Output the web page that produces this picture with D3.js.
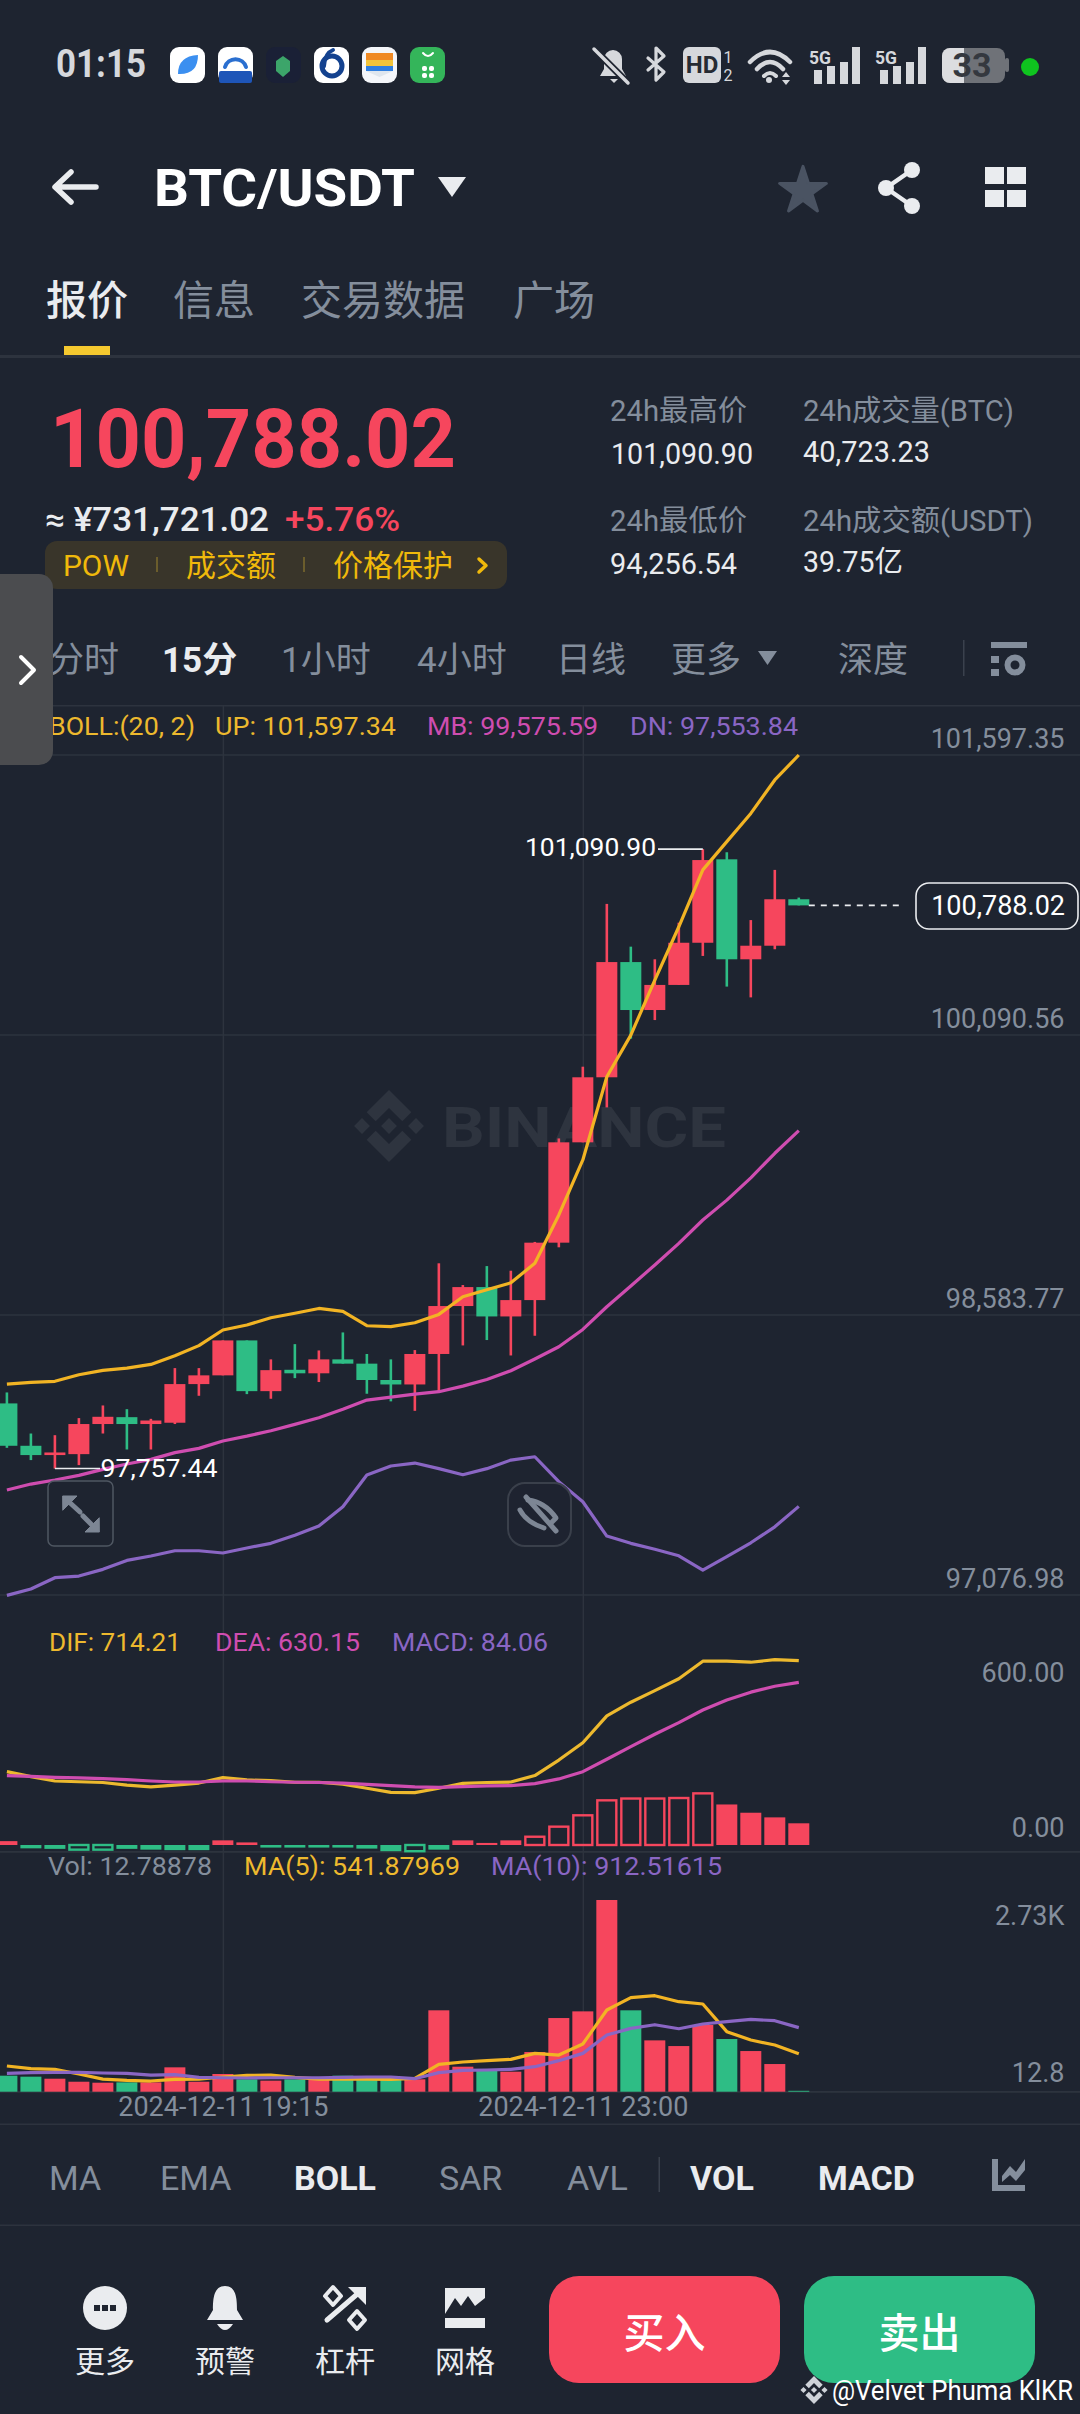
<!DOCTYPE html>
<html><head><meta charset="utf-8">
<script src="https://cdn.jsdelivr.net/npm/d3@7/dist/d3.min.js"></script>
<style>html,body{margin:0;padding:0;background:#1e2430}svg{display:block}text{font-family:Roboto,"Noto Sans CJK SC",sans-serif}</style>
</head><body><div id="chart"></div>
<script>
// ---------- data ----------
const opens  = [98108,97880,97830,97835,97997,98034,97997,98004,98212,98259,98447,98174,98289,98270,98345,98322,98234,98210,98374,98632,98734,98576,98664,98973,99513,99863,100483,100225,100360,100587,101036,100498,100571,100821];
const closes = [97880,97830,97844,97997,98036,97997,98016,98212,98259,98447,98174,98287,98270,98345,98322,98234,98210,98374,98632,98734,98576,98664,98973,99513,99863,100483,100225,100360,100587,101032,100498,100571,100821,100788.02];
const highs  = [98167,97946,97937,98029,98097,98077,98025,98298,98298,98447,98447,98345,98427,98393,98490,98374,98345,98395,98862,98745,98847,98822,98977,99534,99920,100796,100566,100498,100695,101090.90,101074,100709,100979,100830];
const lows   = [97869,97803,97757.44,97776,97946,97860,97860,97997,98149,98259,98158,98133,98244,98223,98322,98160,98119,98068,98171,98420,98449,98366,98472,98948,99513,99701,100071,100171,100360,100516,100351,100293,100552,100788.02];
const bollUp = [98212,98221,98227,98262,98286,98298,98318,98365,98419,98503,98530,98569,98593,98619,98603,98526,98521,98542,98587,98682,98720,98757,98862,99122,99418,99866,100090,100386,100673,100979,101131,101283,101463,101597.34];
const bollMb = [97642,97674,97696,97721,97753,97782,97807,97843,97866,97906,97932,97961,97995,98031,98076,98126,98142,98158,98171,98201,98237,98284,98347,98413,98506,98628,98740,98853,98969,99095,99202,99322,99454,99575.59];
const bollDn = [97075,97109,97170,97179,97215,97263,97287,97315,97315,97303,97330,97355,97398,97448,97552,97723,97771,97787,97757,97724,97757,97803,97821,97687,97579,97394,97355,97323,97288,97211,97283,97358,97444,97553.84];
const macdDif = [284,265,248,245,242,232,225,232,240,261,252,249,243,243,236,220,204,203,220,239,242,244,269,329,396,500,553,598,644,712,712,708,718,714.21];
const macdDea = [269,266,262,260,257,253,248,244,244,248,248,245,243,242,240,235,230,225,223,226,229,230,238,256,284,332,381,429,474,523,562,592,615,630.15];
const macdHist = [15,-13,-15,-18,-18,-15,-18,-20,-20,18,10,-10,-10,-10,-10,-14,-24,-24,-18,18,8,18,32,71,115,173,180,180,182,200,157,125,107,84.06];
const macdHollow = [3,4,17,22,23,24,25,26,27,28,29];
const volumes = [228,214,185,142,128,133,133,347,142,252,176,157,176,176,228,166,166,176,1159,356,309,285,565,1049,1144,2730,1159,731,650,950,750,579,394,12.79];
const volMa5  = [366,328,318,252,180,161,152,176,180,209,233,237,204,180,180,180,176,190,389,423,442,461,546,522,679,1163,1339,1367,1282,1249,855,736,665,541.88];
const volMa10 = [261,271,275,275,266,261,237,242,204,199,195,199,199,199,204,209,209,185,271,304,309,318,356,442,546,807,902,954,897,964,997,1030,1011,912.52];
const priceTicks = [101597.35,100090.56,98583.77,97076.98];
const macdTicks = [600,0];
const volTicks = [2730,12.8];
const volTickLabels = ["2.73K","12.8"];
const dateTickIndex = [9,24];
const dateTickLabels = ["2024-12-11 19:15","2024-12-11 23:00"];
const headTabs = ["报价","信息","交易数据","广场"];
const periods = ["分时","15分","1小时","4小时","日线","更多","深度"];
const indicators = ["MA","EMA","BOLL","SAR","AVL","VOL","MACD"];
const actions = ["更多","预警","杠杆","网格"];
// ---------- style ----------
const BG="#1e2430",RED="#f6465d",GREEN="#2ebd85",YEL="#edb92e",PINK="#cf4db0",PUR="#8a66c4",GRID="#2d333e",GREY="#848e9c",WHITE="#eaecef";
const W=1080,H=2414;
const svg=d3.select("#chart").append("svg").attr("width",W).attr("height",H).attr("viewBox",[0,0,W,H]);
svg.append("rect").attr("width",W).attr("height",H).attr("fill",BG);
function T(x,y,s,size,color,o={}){const t=svg.append("text").attr("x",x).attr("y",y).text(s).attr("font-size",size).attr("fill",color).attr("text-anchor",o.a||"start").attr("font-weight",o.w||400);if(o.tl)t.attr("textLength",o.tl).attr("lengthAdjust","spacingAndGlyphs");return t;}
function R(x,y,w,h,f,r=0){return svg.append("rect").attr("x",x).attr("y",y).attr("width",w).attr("height",h).attr("fill",f).attr("rx",r);}
function P(d,f,s,sw){return svg.append("path").attr("d",d).attr("fill",f||"none").attr("stroke",s||"none").attr("stroke-width",sw||0).attr("stroke-linecap","round").attr("stroke-linejoin","round");}
function C(x,y,r,f,s,sw){return svg.append("circle").attr("cx",x).attr("cy",y).attr("r",r).attr("fill",f||"none").attr("stroke",s||"none").attr("stroke-width",sw||0);}
function logo(cx,cy,s,fill){const pts=[[[0,-.22],[.22,0],[0,.22],[-.22,0]],[[-.75,-.22],[-.53,0],[-.75,.22],[-.97,0]],[[.75,-.22],[.97,0],[.75,.22],[.53,0]],[[0,-1],[.62,-.38],[.37,-.13],[0,-.5],[-.37,-.13],[-.62,-.38]],[[0,1],[.62,.38],[.37,.13],[0,.5],[-.37,.13],[-.62,.38]]];
 pts.forEach(p=>svg.append("polygon").attr("points",p.map(q=>[cx+q[0]*s,cy+q[1]*s].join(",")).join(" ")).attr("fill",fill));}

// ---------- status bar ----------
T(56,77,"01:15",38,"#d6d8dc",{w:700,tl:90});
[["#ffffff","#3b8ff0"],["#ffffff","#2a6fd0"],["#1a2036","#3ca56a"],["#ffffff","#14428f"],["#f4f6fa","#f08a24"],["#34b55a","#ffffff"]].forEach((c,i)=>{
 const x=170+i*48;R(x,47,35,36,c[0],9);
 if(i==0)P(`M${x+8} ${y2(27)}Q${x+8} ${y2(9)} ${x+28} ${y2(8)}Q${x+28} ${y2(28)} ${x+8} ${y2(27)}Z`,c[1]);
 if(i==1){P(`M${x+7} 67A11 11 0 0 1 ${x+28} 67`,"none",c[1],4);R(x+1,71,33,12,"#1e55b8",2);}
 if(i==2)P(`M${x+17} 56l7 5v10l-7 6l-7-6v-10z`,c[1]);
 if(i==3){C(x+18,66,10,"none",c[1],5);P(`M${x+10} 66Q${x+11} 53 ${x+19} 50`,"none",c[1],4);}
 if(i==4){R(x+4,53,27,7,"#f08a24");R(x+4,60,27,6,"#f2c43a");R(x+4,66,27,5,"#2f7fe0");P(`M${x+4} 71h27l-13.5 6z`,"#dfe6ee");}
 if(i==5){P(`M${x+13} 53q5 6 10 0`,"none","#fff",2);[[12,66],[19,66],[12,73],[19,73]].forEach(q=>R(x+q[0],q[1],5,5,"#fff",2));}
});
function y2(v){return 47+v;}
P("M600 76h26l-4-7v-10a9 9 0 0 0-18 0v10zM610 79h8l-4 4z","#d6d8dc");P("M594 49L628 83","none",BG,7);P("M594 49L628 83","none","#d6d8dc",3.5);
P("M648 58L664 72L656 80V48L664 56L648 70","none","#d6d8dc",3.2);
R(683,47,38,36,"#d6d8dc",6);T(702,73,"HD",24,"#262b33",{a:"middle",w:700});T(728,63,"1",16,"#d6d8dc",{a:"middle"});T(728,81,"2",16,"#d6d8dc",{a:"middle"});
P("M750 62Q770 42 790 62","none","#d6d8dc",4.5);P("M757 69Q770 55 783 69","none","#d6d8dc",4.5);P("M764 76Q770 70 776 76","none","#d6d8dc",4);C(769,80,3,"#d6d8dc");P("M782 77l4-5l4 5zM782 80l4 5l4-5z","#d6d8dc");
[809,875].forEach(x=>{T(x,64,"5G",19,"#d6d8dc",{w:700,tl:22});[[0,70],[13,66],[26,62],[38,47]].forEach(b=>R(x+5+b[0],b[1],8,84-b[1],"#d6d8dc"));});
R(942,48,63,35,"#6f7278",8);P("M950 48H964V83H950a8 8 0 0 1-8-8V56a8 8 0 0 1 8-8z","#dcdde0");T(972,77,"33",34,"#34383f",{a:"middle",w:700});
R(1005,58,4,14,"#6f7278",2);svg.append("ellipse").attr("cx",1030).attr("cy",67).attr("rx",9).attr("ry",9).attr("fill","#0fc41f");

// ---------- header ----------
P("M96 187H56M71 172L55 187L71 202","none",WHITE,5.5);
T(154,206,"BTC/USDT",52,"#ffffff",{w:700,tl:261});
P("M438 177H466L452 197Z",WHITE);
svg.append("path").attr("transform","translate(803,191)").attr("d",d3.symbol(d3.symbolStar,680)()).attr("fill","#4a5362").attr("stroke","#4a5362").attr("stroke-width",3).attr("stroke-linejoin","round");
C(912,170,8,WHITE);C(886,188,8,WHITE);C(912,206,8,WHITE);P("M912 170L886 188L912 206","none",WHITE,4.5);
[[985,167],[1007,167],[985,190],[1007,190]].forEach(q=>R(q[0],q[1],19,17,WHITE));
// tabs
[[46,0],[173,1],[301,2],[513,3]].forEach(q=>T(q[0],315,headTabs[q[1]],41,q[1]==0?WHITE:GREY,{w:q[1]==0?500:400}));
R(64,346,46,9,"#f5c92f");R(0,355,W,3,"#2d333e");

// ---------- quote ----------
T(50,467,"100,788.02",82,RED,{w:700,tl:406});
T(45,531,"≈ ¥731,721.02",33,WHITE,{w:500,tl:224});T(285,531,"+5.76%",33,RED,{w:500,tl:115});
R(45,541,462,48,"#39352a",12);
T(63,576,"POW",29,"#f0b90b",{tl:66});R(156,557,2,15,"#6b5d2c");T(186,576,"成交额",30,"#f0b90b");R(303,557,2,15,"#6b5d2c");T(333,576,"价格保护",30,"#f0b90b");
P("M479 559L486 565.5L479 572","none","#f0b90b",3.5);
T(610,421,"24h最高价",29,GREY,{tl:137});T(803,421,"24h成交量(BTC)",29,GREY,{tl:211});
T(611,464,"101,090.90",29,WHITE,{tl:142});T(803,462,"40,723.23",29,WHITE,{tl:127});
T(610,531,"24h最低价",29,GREY,{tl:137});T(803,531,"24h成交额(USDT)",29,GREY,{tl:230});
T(610,574,"94,256.54",29,WHITE,{tl:127});T(803,572,"39.75亿",29,WHITE,{tl:100});

// ---------- period tabs ----------
[[49,0],[162,1],[281,2],[417,3],[556,4],[671,5],[838,6]].forEach(q=>T(q[0],672,periods[q[1]],35,q[1]==1?WHITE:GREY,{w:q[1]==1?700:400}));
P("M758 651H777L767.5 665Z",GREY);R(963,640,1.5,36,"#3a414d");
R(991,642,36,6,GREY);R(991,656,8,7,GREY);R(991,669,8,7,GREY);C(1015,665,7.5,"none",GREY,6);

// ---------- scales ----------
const idx=d3.range(opens.length);
const x=d3.scaleLinear().domain([0,33]).range([6.9,798.8]);
const yP=d3.scaleLinear().domain([97076.98,101597.35]).range([1595,755]);
const yM=d3.scaleLinear().domain([0,600]).range([1845,1690.1]);
const yV=d3.scaleLinear().domain([0,2730]).range([2091.7,1900]);
const BW=21;

// ---------- grid & axes ----------
R(0,705,W,1.5,GRID);
svg.append("g").selectAll("line").data(priceTicks).join("line").attr("x1",0).attr("x2",W).attr("y1",yP).attr("y2",yP).attr("stroke",GRID).attr("stroke-width",1.5);
const sty=g=>{g.select(".domain").remove();g.selectAll("line").remove();g.selectAll("text").attr("fill",GREY).attr("font-size",27).attr("font-family",'Roboto,sans-serif').attr("text-anchor","end").attr("x",1064.5).attr("dy",null);};
svg.append("g").call(d3.axisRight(yP).tickValues(priceTicks).tickSize(0).tickFormat(d3.format(",.2f"))).call(sty).selectAll("text").attr("y",-8);
svg.append("g").attr("transform","translate(0,705)").call(d3.axisBottom(x).tickValues(dateTickIndex).tickSize(1387).tickFormat((d,i)=>dateTickLabels[i])).call(g=>{g.select(".domain").remove();g.selectAll("line").attr("stroke",GRID).attr("stroke-width",1.5);g.selectAll("text").attr("fill",GREY).attr("font-size",27).attr("font-family",'Roboto,sans-serif').attr("y",1411).attr("dy",null);});
svg.append("g").call(d3.axisRight(yM).tickValues(macdTicks).tickSize(0).tickFormat(d3.format(".2f"))).call(sty).selectAll("text").attr("y",-9);
svg.append("g").call(d3.axisRight(yV).tickValues(volTicks).tickSize(0).tickFormat((d,i)=>volTickLabels[i])).call(sty).selectAll("text").attr("y",(d,i)=>i==0?24:-9);
R(0,1851,W,1.8,GRID);R(0,2091,W,1.8,GRID);R(0,2123.5,W,1.5,GRID);R(0,2224.5,W,1.5,GRID);

// ---------- watermark ----------
logo(389,1126,36,"#2e343f");
T(442,1147,"BINANCE",56,"#2e343f",{w:700,tl:284});

// ---------- legends ----------
const L=(x0,y0,s,c,tl)=>T(x0,y0,s,26.5,c,{tl});
L(49,735,"BOLL:(20, 2)",YEL,146);L(215,735,"UP: 101,597.34",YEL,181);L(427,735,"MB: 99,575.59",PINK,171);L(630,735,"DN: 97,553.84",PUR,168);
L(49,1651,"DIF: 714.21",YEL,132);L(215,1651,"DEA: 630.15",PINK,145);L(392,1651,"MACD: 84.06",PUR,156);
L(48,1875,"Vol: 12.78878",GREY,164);L(244,1875,"MA(5): 541.87969",YEL,216);L(491,1875,"MA(10): 912.51615",PUR,231);

// ---------- candles ----------
const col=i=>closes[i]>=opens[i]?RED:GREEN;
const cg=svg.append("g");
cg.selectAll("line").data(idx).join("line").attr("x1",x).attr("x2",x).attr("y1",i=>yP(highs[i])).attr("y2",i=>yP(lows[i])).attr("stroke",col).attr("stroke-width",2.6);
cg.selectAll("rect").data(idx).join("rect").attr("x",i=>x(i)-BW/2).attr("width",BW).attr("y",i=>yP(Math.max(opens[i],closes[i]))).attr("height",i=>Math.max(2,Math.abs(yP(opens[i])-yP(closes[i])))).attr("fill",col);
const lineOf=(arr,y)=>d3.line().x((d,i)=>x(i)).y(d=>y(d))(arr);
const drawLine=(arr,y,c,sw=3.2)=>svg.append("path").attr("d",lineOf(arr,y)).attr("fill","none").attr("stroke",c).attr("stroke-width",sw).attr("stroke-linejoin","round");
drawLine(bollUp,yP,"#f2b424");drawLine(bollMb,yP,PINK);drawLine(bollDn,yP,PUR);

// annotations
const hiI=highs.indexOf(d3.max(highs)),loI=lows.indexOf(d3.min(lows));
svg.append("path").attr("d",`M658 ${yP(highs[hiI])}H${x(hiI)}`).attr("stroke",WHITE).attr("stroke-width",1.6).attr("fill","none");
T(525,856,d3.format(",.2f")(highs[hiI]),26.5,"#ffffff",{tl:131});
svg.append("path").attr("d",`M${x(loI)} ${yP(lows[loI])}H100`).attr("stroke",WHITE).attr("stroke-width",1.6).attr("fill","none");
T(100.5,1477,d3.format(",.2f")(lows[loI]),26.5,"#ffffff",{tl:117});
svg.append("line").attr("x1",x(33)+10).attr("x2",900).attr("y1",yP(closes[33])).attr("y2",yP(closes[33])).attr("stroke",WHITE).attr("stroke-width",1.6).attr("stroke-dasharray","6 6");
svg.append("rect").attr("x",916).attr("y",883).attr("width",162).attr("height",46).attr("rx",13).attr("fill",BG).attr("stroke",WHITE).attr("stroke-width",1.6);
T(1065,915,d3.format(",.2f")(closes[33]),27,"#ffffff",{a:"end"});

// chart buttons
svg.append("rect").attr("x",48).attr("y",1481).attr("width",65).attr("height",65).attr("rx",6).attr("fill",BG).attr("fill-opacity",.6).attr("stroke","#4f5762").attr("stroke-width",1.5);
P("M63 1496H77L63 1510Z","#7d8694","#7d8694",1);P("M68 1501L80 1512","none","#7d8694",5);
P("M99 1532H85L99 1518Z","#7d8694","#7d8694",1);P("M94 1527L83 1516","none","#7d8694",5);
svg.append("rect").attr("x",508).attr("y",1483).attr("width",63).attr("height",63).attr("rx",17).attr("fill",BG).attr("fill-opacity",.7).attr("stroke","#3a404b").attr("stroke-width",2);
P("M528 1500Q545 1502 556 1518L552 1522","none","#7d8694",5);P("M520 1510Q526 1522 544 1528","none","#7d8694",5);P("M526 1497L556 1531","none","#7d8694",5);

// ---------- MACD ----------
const mg=svg.append("g");
mg.selectAll("rect").data(idx).join("rect").attr("x",i=>x(i)-BW/2+(macdHollow.includes(i)?1:0)).attr("width",i=>BW-(macdHollow.includes(i)?2:0))
 .attr("y",i=>macdHist[i]>=0?yM(macdHist[i]):yM(0)).attr("height",i=>Math.max(2,Math.abs(yM(macdHist[i])-yM(0))))
 .attr("fill",i=>macdHollow.includes(i)?"none":(macdHist[i]>=0?RED:GREEN)).attr("stroke",i=>macdHollow.includes(i)?(macdHist[i]>=0?RED:GREEN):"none").attr("stroke-width",2.4);
drawLine(macdDif,yM,YEL);drawLine(macdDea,yM,PINK);

// ---------- volume ----------
const vg=svg.append("g");
vg.selectAll("rect").data(idx).join("rect").attr("x",i=>x(i)-BW/2).attr("width",BW).attr("y",i=>yV(volumes[i])).attr("height",i=>yV(0)-yV(volumes[i])).attr("fill",col);
drawLine(volMa5,yV,"#f2b424");drawLine(volMa10,yV,PUR);

// side handle (above the legend text)
P("M0 574H39a14 14 0 0 1 14 14V751a14 14 0 0 1-14 14H0Z","#4b4c4f");
P("M21 657L34 670L21 683","none","#ffffff",4);

// ---------- indicators ----------
[[49,0],[160,1],[294,2],[439,3],[567,4],[690,5],[818,6]].forEach(q=>T(q[0],2190,indicators[q[1]],34,[2,5,6].includes(q[1])?WHITE:GREY,{w:[2,5,6].includes(q[1])?700:400}));
R(658.5,2157,1.5,35,"#3a414d");
P("M992 2159V2191H1025V2185H998V2159ZM1002 2176L1010 2166L1016 2172L1025 2159V2170L1016 2181L1010 2175L1002 2182Z",GREY);

// ---------- actions ----------
C(105,2308,22,WHITE);[94,102,110].forEach(v=>R(v,2305,6,6,BG));
P("M225 2286C214 2286 213 2298 213 2310L207 2320H243L237 2310C237 2298 236 2286 225 2286Z",WHITE);P("M217 2324H233Q225 2336 217 2324Z",WHITE);
P("M327 2320L362 2290","none",WHITE,5);P("M348 2287H366V2305Z",WHITE);
[[333,2296],[357,2320]].forEach(q=>P(`M${q[0]} ${q[1]-9}L${q[0]+8} ${q[1]}L${q[0]} ${q[1]+9}L${q[0]-8} ${q[1]}Z`,"none",WHITE,4));
R(445,2288,40,26,WHITE);P("M445 2314L455 2298L461 2306L468 2296L475 2306L485 2298V2314Z",BG);R(445,2318,40,10,WHITE);
[105,225,345,465].forEach((v,i)=>T(v,2372,actions[i],30,WHITE,{a:"middle"}));
R(549,2276,231,107,RED,30);R(804,2276,231,107,GREEN,30);
T(664.5,2348,"买入",41,"#fff",{a:"middle",w:500});T(919.5,2348,"卖出",41,"#fff",{a:"middle",w:500});
logo(814,2390,14,"#cfd3d9");
T(832,2400,"@Velvet Phuma KlKR",27,"#ffffff",{tl:241});
</script></body></html>
